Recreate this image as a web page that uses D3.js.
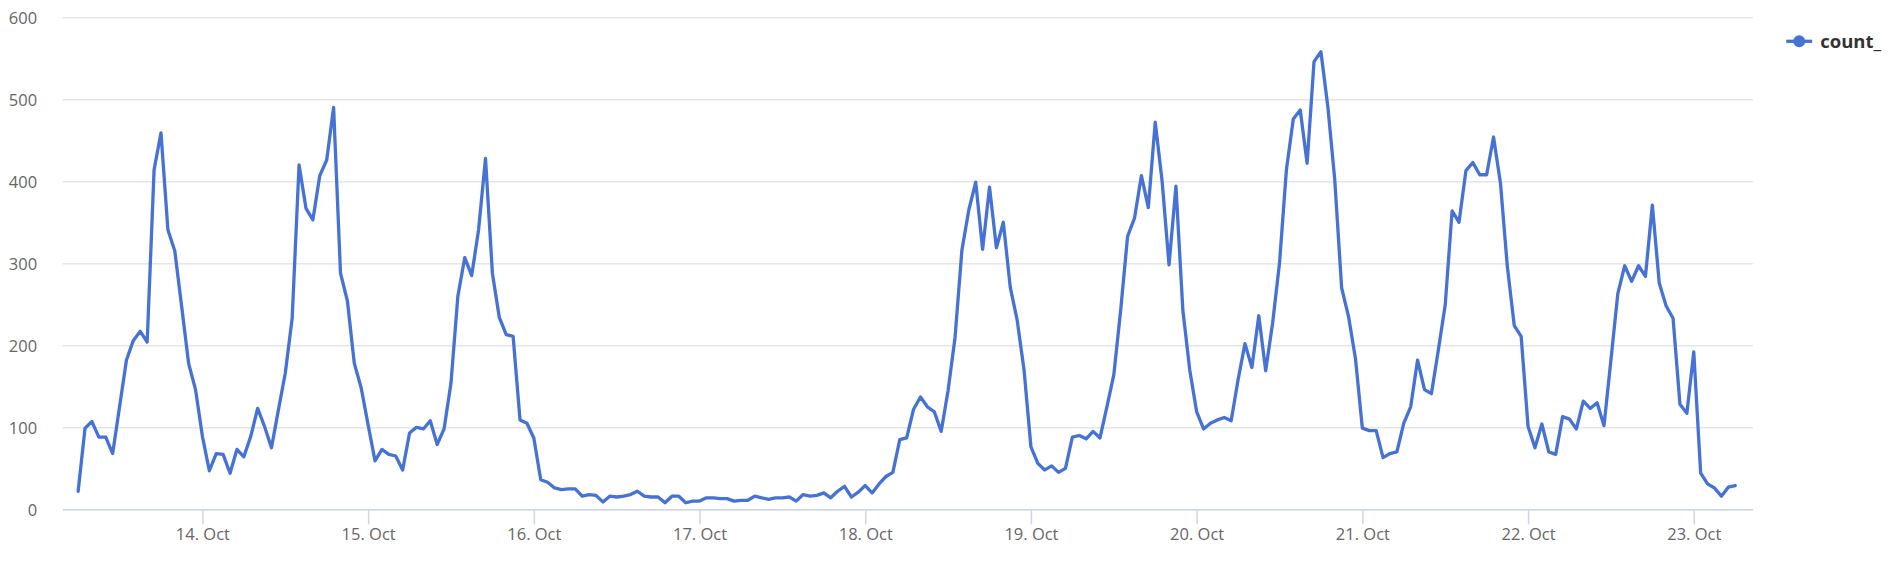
<!DOCTYPE html>
<html>
<head>
<meta charset="utf-8">
<title>count_ per hour</title>
<style>
body {
  margin: 0;
  background: #fff;
}

.axis text {
  font-family: "Open Sans", sans-serif;
  font-size: 16.5px;
  fill: #666;
}

.y.axis line {
  stroke: #e6e6e6;
  stroke-width: 1.5px;
}

.x.axis line,
.x.axis path {
  stroke: #ccd6eb;
  stroke-width: 1.5px;
}

.y.axis path {
  display: none;
}

.series {
  fill: none;
  stroke: #4572d4;
  stroke-width: 3.3px;
  stroke-linejoin: round;
  stroke-linecap: round;
}

.legend text {
  font-family: "Open Sans", sans-serif;
  font-size: 18.5px;
  font-weight: bold;
  fill: #333;
}
</style>
</head>
<body>
<div id="chart"></div>

<script src="https://d3js.org/d3.v7.min.js"></script>
<script>
// hourly counts, first value at 13 Oct 06:00
var firstHour = "2023-10-13T06:00:00Z";

var oct13 = [22, 99, 107, 88, 88, 68, 125, 182, 206, 217, 204, 414, 459, 341, 315, 247, 178, 146];
var oct14 = [89, 47, 68, 67, 44, 73, 64, 89, 123, 101, 75, 121, 166, 233, 420, 367, 353, 407, 426, 490, 288, 254, 178, 148];
var oct15 = [103, 59, 73, 67, 65, 48, 93, 100, 98, 108, 79, 98, 154, 260, 307, 285, 341, 428, 288, 234, 213, 211, 109, 105];
var oct16 = [87, 36, 33, 26, 24, 25, 25, 16, 18, 17, 9, 16, 15, 16, 18, 22, 16, 15, 15, 8, 16, 16, 8, 10];
var oct17 = [10, 14, 14, 13, 13, 10, 11, 11, 16, 14, 12, 14, 14, 15, 10, 18, 16, 17, 20, 14, 22, 28, 15, 21];
var oct18 = [29, 20, 31, 40, 45, 85, 87, 122, 137, 125, 119, 95, 145, 209, 316, 365, 399, 317, 393, 319, 350, 271, 231, 170];
var oct19 = [76, 56, 48, 53, 45, 50, 88, 90, 86, 95, 87, 125, 164, 243, 333, 355, 407, 368, 472, 400, 298, 394, 243, 170];
var oct20 = [119, 98, 105, 109, 112, 108, 158, 202, 173, 236, 169, 227, 300, 414, 476, 487, 422, 546, 558, 491, 402, 270, 235, 184];
var oct21 = [99, 96, 96, 63, 68, 70, 105, 125, 182, 146, 141, 194, 249, 364, 350, 413, 423, 408, 408, 454, 398, 296, 224, 211];
var oct22 = [101, 75, 104, 70, 67, 113, 110, 98, 132, 123, 130, 102, 182, 263, 297, 278, 297, 284, 371, 276, 248, 233, 128, 117];
var oct23 = [192, 44, 31, 26, 16, 27, 29];

var yTicks = [0, 100, 200, 300, 400, 500, 600];
var seriesName = "count_";

var counts = [].concat(oct13, oct14, oct15, oct16, oct17, oct18, oct19, oct20, oct21, oct22, oct23);
var t0 = new Date(firstHour);
var data = counts.map(function(v, i) {
  return { t: d3.utcHour.offset(t0, i), v: v };
});

var margin = { top: 17.3, right: 136.2, bottom: 54.7, left: 62.6 };
var width = 1889 - margin.left - margin.right;
var height = 564 - margin.top - margin.bottom;

var svg = d3.select("#chart")
  .append("svg")
    .attr("width", width + margin.left + margin.right)
    .attr("height", height + margin.top + margin.bottom)
  .append("g")
    .attr("transform", "translate(" + margin.left + "," + margin.top + ")");

// a little room either side of the data, like the original
var xscale = d3.scaleUtc()
  .domain([
    new Date(data[0].t.getTime() - 2.25 * 36e5),
    new Date(data[data.length - 1].t.getTime() + 2.55 * 36e5)
  ])
  .range([0, width]);

var yscale = d3.scaleLinear()
  .domain([0, 600])
  .range([height, 0]);

var yAxis = d3.axisLeft(yscale)
  .tickValues(yTicks)
  .tickSize(-width)
  .tickPadding(25.5);

svg.append("g")
  .attr("class", "y axis")
  .call(yAxis)
  .selectAll("text")
    .attr("dy", "0.36em");

var xAxis = d3.axisBottom(xscale)
  .ticks(d3.utcDay.every(1))
  .tickFormat(d3.utcFormat("%-d. %b"))
  .tickSize(15)
  .tickSizeOuter(0)
  .tickPadding(4);

svg.append("g")
  .attr("class", "x axis")
  .attr("transform", "translate(0," + height + ")")
  .call(xAxis);

var line = d3.line()
  .x(function(d) { return xscale(d.t); })
  .y(function(d) { return yscale(d.v); });

svg.append("path")
  .datum(data)
  .attr("class", "series")
  .attr("d", line);

// legend on the right
var legend = svg.append("g")
  .attr("class", "legend")
  .attr("transform", "translate(" + (width + 33.4) + ",24)");

legend.append("line")
  .attr("x1", 0)
  .attr("x2", 26)
  .attr("y1", 0)
  .attr("y2", 0)
  .style("stroke", "#4572d4")
  .style("stroke-width", 3.3);

legend.append("circle")
  .attr("cx", 13)
  .attr("cy", 0)
  .attr("r", 6)
  .style("fill", "#4572d4");

legend.append("text")
  .attr("x", 34)
  .attr("y", 6.5)
  .text(seriesName);
</script>
</body>
</html>
